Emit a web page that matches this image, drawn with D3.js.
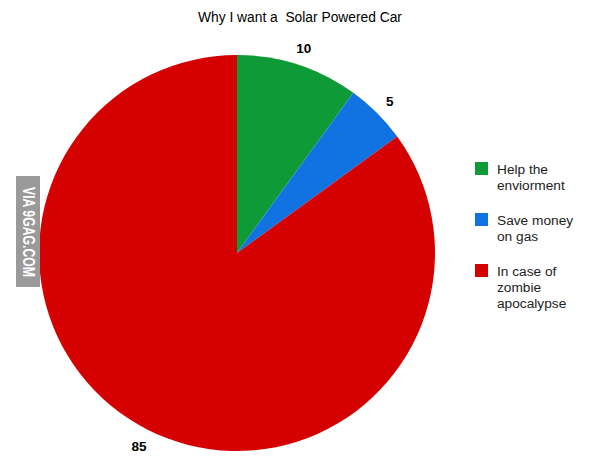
<!DOCTYPE html>
<html lang="en">
<head>
  <meta charset="UTF-8">
  <title>Why I want a Solar Powered Car</title>
  <script src="https://d3js.org/d3.v7.min.js"></script>
  <style>
    body {
      margin: 0;
      background: #fff;
      font-family: "Liberation Sans", Arial, sans-serif;
    }
  </style>
</head>
<body>

<svg width="600" height="463"></svg>

<script>

  const categories = ["Help the enviorment", "Save money on gas", "In case of zombie apocalypse"];
  const legendLines = [["Help the", "enviorment"], ["Save money", "on gas"], ["In case of", "zombie", "apocalypse"]];
  const values = [10, 5, 85];
  const colors = ["#0f9a38", "#1173e2", "#d50000"];

  const svg = d3.select("svg");
  const cx = 237, cy = 253, radius = 198;

  svg.append("text")
    .attr("x", 300)
    .attr("y", 22)
    .attr("text-anchor", "middle")
    .attr("font-size", 13.8)
    .style("white-space", "pre")
    .text("Why I want a  Solar Powered Car");

  const data = categories.map((c, i) => ({ name: c, value: values[i], color: colors[i] }));

  const pie = d3.pie().sort(null).value(d => d.value);
  const arc = d3.arc().innerRadius(0).outerRadius(radius);
  const labelArc = d3.arc().innerRadius(radius + 18).outerRadius(radius + 18);

  const g = svg.append("g").attr("transform", `translate(${cx},${cy})`);
  const arcs = pie(data);

  g.selectAll("path")
    .data(arcs)
    .enter()
    .append("path")
    .attr("d", arc)
    .attr("fill", d => d.data.color);

  g.selectAll(".lbl")
    .data(arcs)
    .enter()
    .append("text")
    .attr("class", "lbl")
    .attr("transform", d => `translate(${labelArc.centroid(d)})`)
    .attr("text-anchor", "middle")
    .attr("dy", "0.4em")
    .attr("font-size", 13.5)
    .attr("font-weight", "bold")
    .text(d => d.data.value);

  // legend
  const legend = svg.selectAll(".legend")
    .data(data)
    .enter()
    .append("g")
    .attr("transform", (d, i) => `translate(475,${162 + i * 51})`);

  legend.append("rect")
    .attr("width", 13)
    .attr("height", 13)
    .attr("fill", d => d.color);

  legend.each(function(d, i) {
    const t = d3.select(this).append("text")
      .attr("x", 22)
      .attr("y", 12)
      .attr("font-size", 13.7)
      .attr("fill", "#222");
    legendLines[i].forEach((line, j) => {
      t.append("tspan").attr("x", 22).attr("dy", j === 0 ? 0 : 16).text(line);
    });
  });

  // watermark
  svg.append("rect")
    .attr("x", 16)
    .attr("y", 176)
    .attr("width", 24)
    .attr("height", 111)
    .attr("fill", "#9a9a9a");

  svg.append("text")
    .attr("transform", "translate(22.5,232) rotate(90)")
    .attr("text-anchor", "middle")
    .attr("font-family", "'Liberation Sans Narrow', 'Arial Narrow', sans-serif")
    .attr("font-weight", "bold")
    .attr("font-size", 16)
    .attr("fill", "#fff")
    .attr("textLength", 90)
    .attr("lengthAdjust", "spacingAndGlyphs")
    .text("VIA 9GAG.COM");

</script>

</body>
</html>
